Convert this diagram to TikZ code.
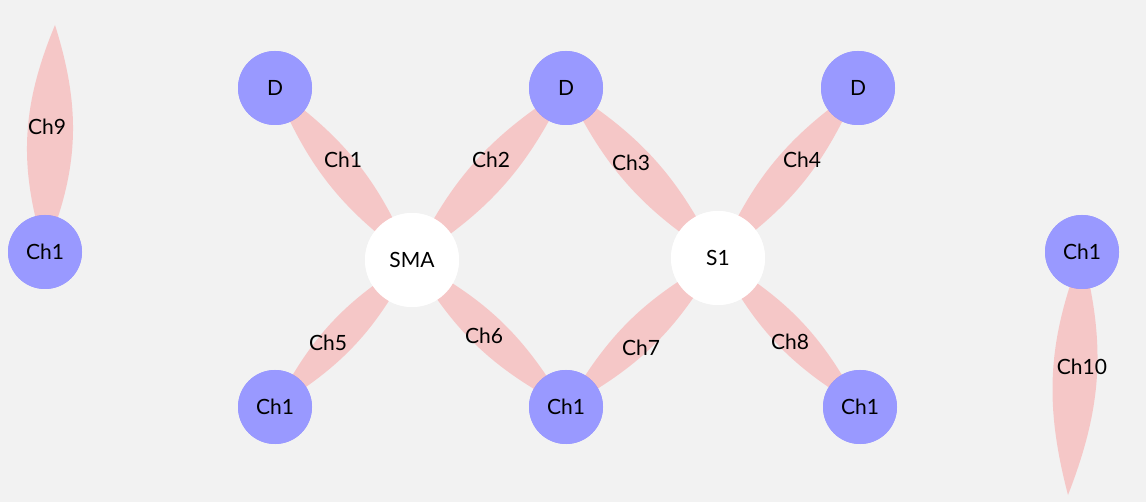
\documentclass[tikz,border=0pt]{standalone}
\usepackage{fontspec}
\setmainfont{Lato}
\begin{document}
\begin{tikzpicture}[x=1pt,y=-1pt,
  blue/.style={circle,fill=blue!40!white,minimum size=74pt,inner sep=0pt,font=\fontsize{21}{24}\selectfont},
  white/.style={circle,fill=white,minimum size=94pt,inner sep=0pt,font=\fontsize{21}{24}\selectfont},
  leaf/.style={fill=red!60,fill opacity=0.3},
  lab/.style={font=\fontsize{21}{24}\selectfont}]
\fill[gray!10] (0,0) rectangle (1146,502);
\useasboundingbox (0,0) rectangle (1146,502);
\node[blue] (d1) at (275,88) {D};
\node[blue] (d2) at (566,88) {D};
\node[blue] (d3) at (858,88) {D};
\node[white] (sma) at (412,260) {SMA};
\node[white] (s1) at (718,258) {S1};
\node[blue] (b1) at (275,407) {Ch1};
\node[blue] (b2) at (566,407) {Ch1};
\node[blue] (b3) at (860,407) {Ch1};
\node[blue] (l1) at (45,252) {Ch1};
\node[blue] (r1) at (1082,252) {Ch1};
\coordinate (t9) at (55,25);
\coordinate (e10) at (1068,495);
\foreach \a/\b in {d1/sma,d2/sma,d2/s1,d3/s1,sma/b1,sma/b2,s1/b2,s1/b3}
  \fill[leaf] (\a.center) to[bend left=16] (\b.center) to[bend left=16] (\a.center);
\fill[leaf] (t9) to[bend left=20] (l1.center) to[bend left=20] (t9);
\fill[leaf] (r1.center) to[bend left=18] (e10) to[bend left=18] (r1.center);
\foreach \n/\t in {d1/D,d2/D,d3/D,b1/Ch1,b2/Ch1,b3/Ch1,l1/Ch1,r1/Ch1}
  \node[blue] at (\n) {\t};
\node[white] at (sma) {SMA};
\node[white] at (s1) {S1};
\node[lab] (c1) at (343,160) {Ch1};
\node[lab] (c2) at (491,160) {Ch2};
\node[lab] (c3) at (631,163) {Ch3};
\node[lab] (c4) at (802,160) {Ch4};
\node[lab] (c5) at (328,343) {Ch5};
\node[lab] (c6) at (484,336) {Ch6};
\node[lab] (c7) at (641,348) {Ch7};
\node[lab] (c8) at (790,342) {Ch8};
\node[lab] (c9) at (47,127) {Ch9};
\node[lab] (c10) at (1082,367) {Ch10};
\end{tikzpicture}
\end{document}
